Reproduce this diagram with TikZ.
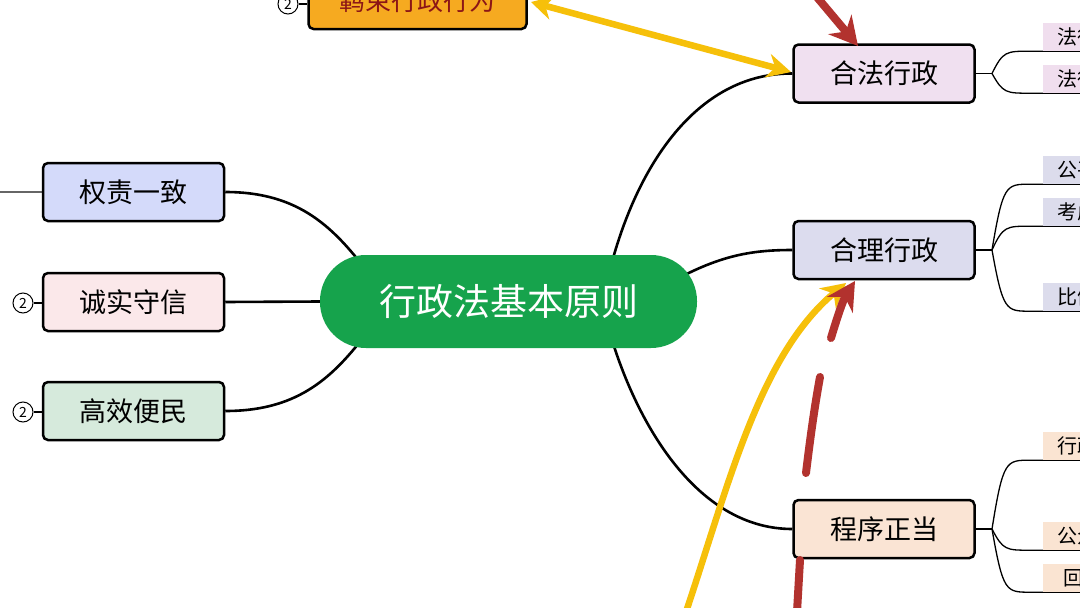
\documentclass[tikz,border=0pt]{standalone}
\usepackage{fontspec}
\setmainfont{Noto Sans CJK SC}
\usetikzlibrary{arrows.meta,backgrounds,calc}
\definecolor{pillgreen}{RGB}{22,163,76}
\definecolor{orangebox}{RGB}{246,170,32}
\definecolor{darkredtxt}{RGB}{140,22,22}
\definecolor{fhefa}{RGB}{240,224,240}
\definecolor{fheli}{RGB}{220,220,238}
\definecolor{fcheng}{RGB}{250,228,212}
\definecolor{fquan}{RGB}{212,218,250}
\definecolor{fchengshi}{RGB}{251,232,234}
\definecolor{fgao}{RGB}{214,234,220}
\definecolor{lpink}{RGB}{240,222,238}
\definecolor{llav}{RGB}{220,220,236}
\definecolor{lpeach}{RGB}{250,228,210}
\definecolor{hlyellow}{RGB}{246,192,10}
\definecolor{hlred}{RGB}{178,50,46}
\begin{document}
\begin{tikzpicture}[x=1pt,y=-1pt,
  mainbox/.style={draw=black, line width=2.5pt, rounded corners=5pt,
    minimum width=181pt, minimum height=58pt, inner sep=0pt,
    font=\fontsize{27}{30}\selectfont},
  leaflabel/.style={anchor=west, minimum height=28pt, minimum width=80pt,
    inner xsep=14pt, inner ysep=0pt,
    font=\fontsize{20}{22}\selectfont},
  numcirc/.style={draw=black, line width=1pt, circle, minimum size=20pt,
    inner sep=0pt, font=\fontsize{14}{14}\selectfont},
  conn/.style={draw=black, line width=2.6pt},
  leafconn/.style={draw=black, line width=1.3pt},
  yhl/.style={draw=hlyellow, line width=6.5pt, line cap=round},
  rhl/.style={draw=hlred, line width=8pt, line cap=round},
]
\clip (0,0) rectangle (1080,608);

% ---------- nodes ----------
\node[fill=pillgreen, rounded corners=46pt, minimum width=377pt, minimum height=93pt,
  inner sep=0pt, text=white, font=\fontsize{37}{40}\selectfont] (pill) at (508.5,301.5) {行政法基本原则};

\node[mainbox, fill=fhefa] (hefa) at (884,73.5) {合法行政};
\node[mainbox, fill=fheli] (heli) at (884,250) {合理行政};
\node[mainbox, fill=fcheng] (chengxu) at (884,529) {程序正当};

\node[mainbox, fill=fquan] (quanze) at (133.5,192) {权责一致};
\node[mainbox, fill=fchengshi] (chengshi) at (133.5,302) {诚实守信};
\node[mainbox, fill=fgao] (gaoxiao) at (133.5,411) {高效便民};

\node[mainbox, fill=orangebox, minimum width=218pt, minimum height=56pt,
  text=darkredtxt, font=\fontsize{26}{28}\selectfont] (jishu) at (417.5,1) {羁束行政行为};

\node[numcirc] (n1) at (288,4) {2};
\node[numcirc] (n2) at (23,303) {2};
\node[numcirc] (n3) at (23,412) {2};

% leaf labels (cut by the right edge)
\node[leaflabel, fill=lpink] (l1) at (1043,37) {法律优先};
\node[leaflabel, fill=lpink] (l2) at (1043,79) {法律保留};
\node[leaflabel, fill=llav] (l3) at (1043,170) {公平公正};
\node[leaflabel, fill=llav] (l4) at (1043,212) {考虑相关因素};
\node[leaflabel, fill=llav] (l5) at (1043,297) {比例原则};
\node[leaflabel, fill=lpeach] (l6) at (1043,446) {行政公开};
\node[leaflabel, fill=lpeach] (l7) at (1043,536) {公众参与};
\node[leaflabel, fill=lpeach] (l8) at (1043,578) {回避};

% ---------- connectors (behind) ----------
\begin{pgfonlayer}{background}
\fill[white] (0,0) rectangle (1080,608);
\coordinate (pq) at (372,278);
\coordinate (pg) at (372,326);
\coordinate (ph) at (612,262);
\coordinate (pl) at (675,280);
\coordinate (pc) at (612,340);
\coordinate (edgeL) at (0,192);

\draw[draw=gray!80!black, line width=1.2pt] (edgeL) -- (quanze.west);
\draw[conn] (quanze.east) .. controls (300,192) and (335,228) .. (pq);
\draw[conn] (chengshi.east) -- (pill.west);
\draw[conn] (gaoxiao.east) .. controls (300,411) and (335,376) .. (pg);
\draw[conn] (ph) .. controls (640,160) and (700,73) .. (hefa.west);
\draw[conn] (pl) .. controls (720,256) and (750,250) .. (heli.west);
\draw[conn] (pc) .. controls (640,430) and (700,529) .. (chengxu.west);

\draw[leafconn] (n1) -- (jishu.west |- n1);
\draw[leafconn] (n2) -- (chengshi.west |- n2);
\draw[leafconn] (n3) -- (gaoxiao.west |- n3);

% leaf connectors
\coordinate (s1) at (992,73.5);
\coordinate (s2) at (992,250);
\coordinate (s3) at (992,529);
\draw[leafconn] (hefa.east) -- (s1);
\draw[leafconn] (heli.east) -- (s2);
\draw[leafconn] (chengxu.east) -- (s3);
\foreach \s/\l in {s1/l1,s1/l2,s2/l3,s2/l4,s2/l5,s3/l6,s3/l7,s3/l8}{
  \draw[leafconn] let \p1=(\l.south) in
    (\s) .. controls (1003pt,\y1) and (1006pt,\y1) .. (1030pt,\y1) -- (\l.south east);
}
\end{pgfonlayer}

% ---------- highlight arrows ----------
\coordinate (ya1) at (531,2);
\coordinate (ya2) at (791,72);
\draw[yhl, {Stealth[length=22pt,width=24pt]}-{Stealth[length=24pt,width=24pt]}] (ya1) -- (ya2);

\coordinate (ra1) at (816,-4);
\coordinate (ra2) at (858,46);
\draw[rhl, -{Stealth[length=28pt,width=30pt]}] (ra1) -- (ra2);

\coordinate (yb1) at (686,612);
\coordinate (yb2) at (846,283);
\draw[yhl, -{Stealth[length=24pt,width=26pt]}] (yb1) .. controls (730,480) and (760,355) .. (yb2);

\coordinate (rb1) at (797,612);
\coordinate (rb2) at (800,560);
\coordinate (rb3) at (806,473);
\coordinate (rb4) at (820,377);
\coordinate (rb5) at (831,338);
\coordinate (rb6) at (855,281);
\draw[rhl] (rb1) -- (rb2);
\draw[rhl] (rb3) .. controls (810,440) and (814,410) .. (rb4);
\draw[rhl, -{Stealth[length=28pt,width=30pt]}] (rb5) .. controls (837,318) and (843,300) .. (rb6);
\end{tikzpicture}
\end{document}
